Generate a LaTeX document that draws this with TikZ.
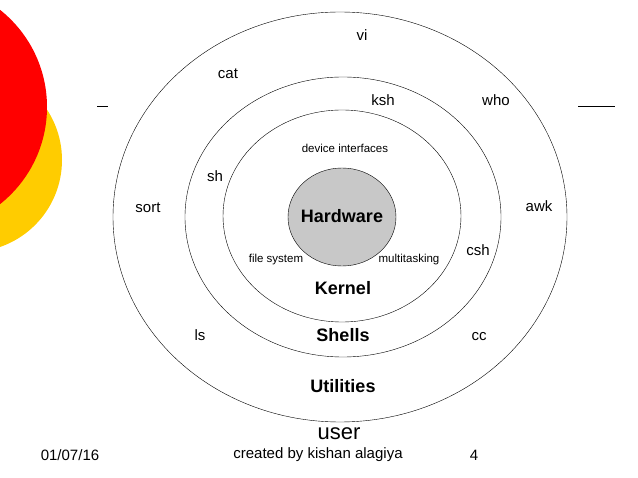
\documentclass[tikz,border=0pt]{standalone}
\usepackage{fontspec}
\setmainfont{Liberation Sans}
\begin{document}
\begin{tikzpicture}[x=1pt,y=-1pt,
  lab/.style={font=\fontsize{15}{17}\selectfont},
  sm/.style={font=\fontsize{11.5}{13}\selectfont},
  bl/.style={font=\fontsize{18}{20}\selectfont\bfseries},
  ft/.style={font=\fontsize{15}{17}\selectfont}]
\useasboundingbox (0,0) rectangle (638,478);
\clip (0,0) rectangle (638,478);
\fill[fill={rgb,255:red,255;green,204;blue,0}] (-30,160) circle (92);
\fill[red] (-77,107) circle (124);
\draw[thin] (340,217) ellipse (227 and 205);
\draw[thin] (343,217) ellipse (158 and 140);
\draw[thin] (342,216) ellipse (119 and 106);
\draw[thin,fill={rgb,255:red,200;green,200;blue,200}] (342,217) ellipse (54 and 49);
\node[bl] (hwl) at (342,216) {Hardware};
\node[lab] (vi) at (362,35) {vi};
\node[lab] (cat) at (228,74) {cat};
\node[lab] (ksh) at (383,100) {ksh};
\node[lab] (who) at (496,100) {who};
\node[lab] (sort) at (148,208) {sort};
\node[lab] (awk) at (539,206) {awk};
\node[lab] (sh) at (215,176) {sh};
\node[sm] (dev) at (345,148) {device interfaces};
\node[sm] (fs) at (276,260) {file system};
\node[sm] (mt) at (409,260) {multitasking};
\node[lab] (csh) at (478,250) {csh};
\node[bl] (ker) at (343,288) {Kernel};
\node[bl] (sheln) at (343,335) {Shells};
\node[lab] (ls) at (200,335) {ls};
\node[lab] (cc) at (479,337) {cc};
\node[bl] (ut) at (343,386) {Utilities};
\node[font=\fontsize{22}{24}\selectfont] (us) at (339,434) {user};
\node[ft] (dt) at (70,455) {01/07/16};
\node[ft] (cr) at (318,455) {created by kishan alagiya};
\node[ft] (pg) at (474,455) {4};
\coordinate (d1) at (97,106); \coordinate (d2) at (108,106);
\coordinate (r1) at (578,106); \coordinate (r2) at (615,106);
\draw (d1) -- (d2);
\draw (r1) -- (r2);
\end{tikzpicture}
\end{document}
